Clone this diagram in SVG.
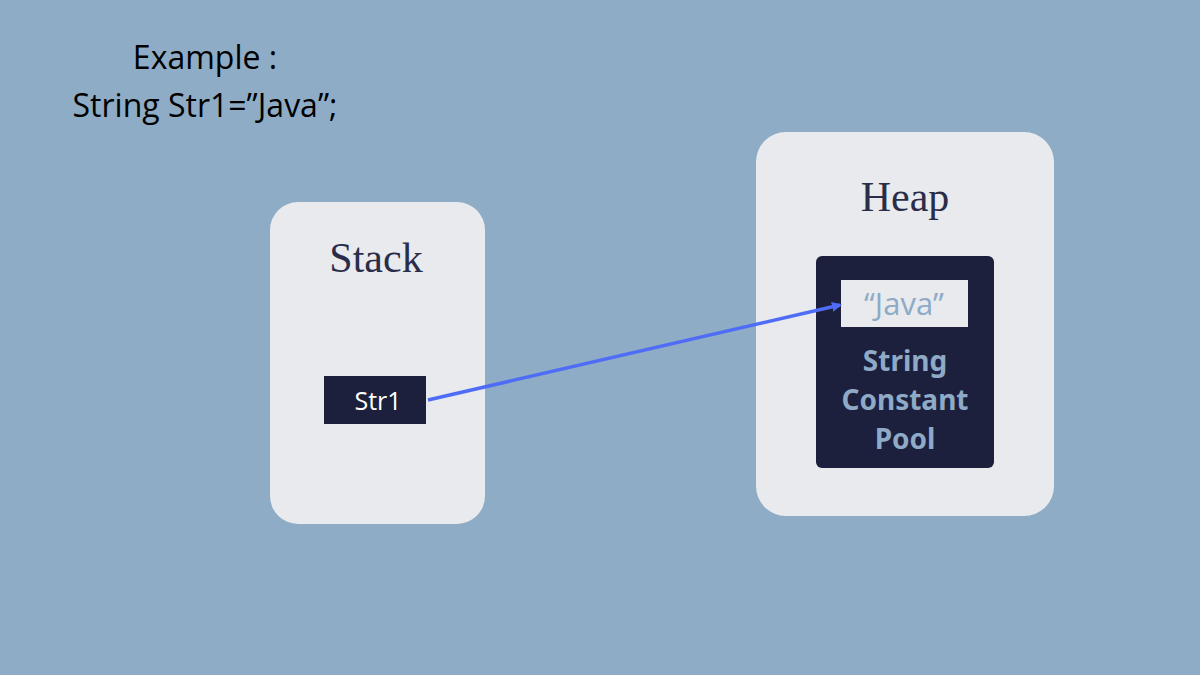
<svg xmlns="http://www.w3.org/2000/svg" width="1200" height="675" viewBox="0 0 1200 675">
<defs>
<style>
.t{font-family:"Open Sans","Noto Sans",sans-serif;fill:#000}
.h{font-family:"Liberation Serif",serif;fill:#2a2d4a;font-size:42px;text-anchor:middle}
.p{font-family:"Noto Sans","Open Sans",sans-serif;font-weight:bold;fill:#8eaac6;font-size:28px;text-anchor:middle}
</style>
<marker id="a" markerWidth="10" markerHeight="10" refX="8" refY="5" orient="auto" markerUnits="userSpaceOnUse" viewBox="0 0 10 10">
<path d="M0,0 L10,5 L0,10 Z" fill="#4f6cf7"/>
</marker>
</defs>
<rect width="1200" height="675" fill="#8eacc5"/>
<text class="t" x="205" y="69" font-size="32" text-anchor="middle">Example :</text>
<text class="t" x="205" y="117" font-size="32" text-anchor="middle">String Str1=”Java”;</text>
<g id="stack">
<rect x="270" y="202" width="215" height="322" rx="28" fill="#e8eaed"/>
<text class="h" x="376" y="272">Stack</text>
</g>
<g id="str1">
<rect x="324" y="376" width="102" height="48" fill="#1c203d"/>
<text x="378" y="410" font-family="Open Sans,sans-serif" font-size="25" fill="#fff" text-anchor="middle">Str1</text>
</g>
<g id="heap">
<rect x="756" y="132" width="298" height="384" rx="30" fill="#e8eaed"/>
<text class="h" x="905" y="211">Heap</text>
</g>
<g id="pool">
<rect x="816" y="256" width="178" height="212" rx="6" fill="#1c203d"/>
<text class="p" x="905" y="371">String</text>
<text class="p" x="905" y="410">Constant</text>
<text class="p" x="905" y="449">Pool</text>
</g>
<g id="java">
<rect x="841" y="280" width="127" height="47" fill="#e8eaed"/>
<text x="904" y="315" font-family="Open Sans,sans-serif" font-size="31" fill="#8eaac6" text-anchor="middle">“Java”</text>
</g>
<g id="connectors">
<line x1="428" y1="400" x2="840" y2="305" stroke="#4f6cf7" stroke-width="3.5" marker-end="url(#a)"/>
</g>
</svg>
